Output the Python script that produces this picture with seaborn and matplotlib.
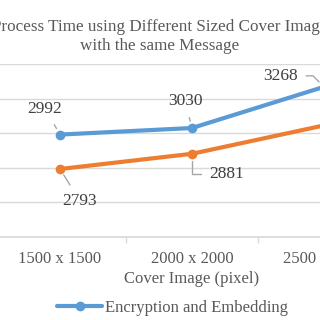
import matplotlib
matplotlib.use("Agg")
import matplotlib.pyplot as plt
import pandas as pd
import seaborn as sns

# values
categories = ["1500 x 1500", "2000 x 2000", "2500 x 2500"]
encryption = [2992, 3030, 3268]
extraction = [2793, 2881, 3045]
series_names = ["Encryption and Embedding", "Extraction and Decryption"]
y_ticks = [2400, 2600, 2800, 3000, 3200, 3400]

BLUE = "#5B9BD5"
ORANGE = "#ED7D31"
GRAY = "#595959"

sns.set_theme(style="white")
plt.rcParams["font.family"] = ["Liberation Serif", "DejaVu Serif"]

fig = plt.figure(figsize=(3.2, 3.2), dpi=100)
# the reference is a crop of a wider Excel chart, so the axes run past the edges
ax = fig.add_axes([-6 / 320, 83 / 320, 396 / 320, 173 / 320])

for name, vals, col in [(series_names[0], encryption, BLUE),
                        (series_names[1], extraction, ORANGE)]:
    df = pd.DataFrame({"size": categories, "ms": vals})
    sns.lineplot(data=df, x="size", y="ms", ax=ax, color=col, label=name,
                 marker="o", markersize=7, linewidth=3, markeredgewidth=0,
                 sort=False)

ax.set_xlim(-0.5, len(categories) - 0.5)
ax.set_ylim(y_ticks[0], y_ticks[-1])
ax.set_yticks(y_ticks)
ax.set_yticklabels([])
ax.tick_params(axis="y", length=0)
ax.yaxis.grid(True, color="#D9D9D9", linewidth=1)
ax.set_axisbelow(True)
for s in ["left", "top", "right"]:
    ax.spines[s].set_visible(False)
ax.spines["bottom"].set_color("#D9D9D9")

ax.set_xticks(range(len(categories)))
ax.set_xticklabels(categories, fontsize=12, color=GRAY)
ax.set_xticks([i + 0.5 for i in range(len(categories) - 1)], minor=True)
ax.tick_params(axis="x", which="major", length=0, pad=10)
ax.tick_params(axis="x", which="minor", length=4, color="#D9D9D9", bottom=True)
ax.set_xlabel("Cover Image (pixel)", fontsize=12, color=GRAY, labelpad=3)
ax.set_ylabel("")

# data labels with leader lines
offsets_enc = [(-15, 26), (-7, 27), (-44, 11)]
offsets_ext = [(20, -32), (35, -20), (35, -20)]
leader = dict(arrowstyle="-", color="#A6A6A6", lw=1, shrinkA=4, shrinkB=5)
for i, v in enumerate(encryption):
    props = dict(leader)
    if i == 2:
        props["connectionstyle"] = "angle,angleA=0,angleB=135,rad=0"
    ax.annotate(str(v), xy=(i, v), xytext=offsets_enc[i], textcoords="offset pixels",
                ha="center", va="center", fontsize=12.5, color="#404040",
                arrowprops=props)
for i, v in enumerate(extraction):
    props = dict(leader)
    if i == 1:
        props["connectionstyle"] = "angle,angleA=0,angleB=90,rad=0"
    ax.annotate(str(v), xy=(i, v), xytext=offsets_ext[i], textcoords="offset pixels",
                ha="center", va="center", fontsize=12.5, color="#404040",
                arrowprops=props)

ax.legend(loc="upper left", bbox_to_anchor=(42 / 320, 0.11),
          bbox_transform=fig.transFigure, frameon=False, fontsize=12,
          labelcolor=GRAY, handlelength=2.7, handletextpad=0.2)

fig.text(0.5, 1 - 27 / 320, "Process Time using Different Sized Cover Image",
         ha="center", va="center", fontsize=12.3, color=GRAY)
fig.text(0.5, 1 - 46 / 320, "with the same Message",
         ha="center", va="center", fontsize=12.3, color=GRAY)

fig.savefig("out.png", dpi=100)
